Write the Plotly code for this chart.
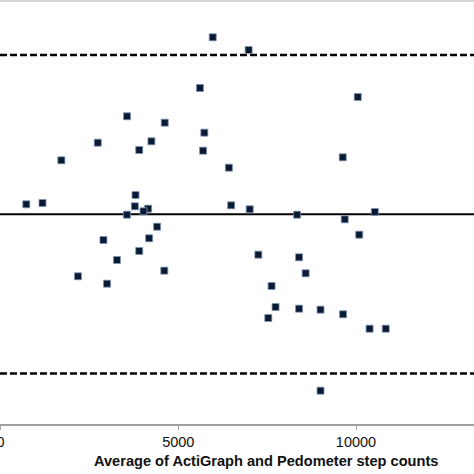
import plotly.graph_objects as go

# Average of ActiGraph and Pedometer step counts
avg_steps = [5970, 6980, 5610, 10050, 3560, 4620, 5734, 4245, 2737, 3902,
             5698, 9627, 1712, 6424, 3798, 1181, 726, 6488, 3779, 4153,
             7010, 4022, 10530, 3556, 8343, 9683, 4405, 10091, 4181, 2896,
             3902, 7253, 8399, 3276, 4608, 8583, 2179, 2997, 7625, 7737,
             7533, 8399, 9002, 9636, 10382, 10837, 9002]
# Difference between step counts
diff_steps = [4948, 4629, 3674, 3448, 2963, 2802, 2551, 2334, 2299, 2116,
              2098, 1932, 1857, 1671, 985, 784, 751, 726, 701, 641,
              626, 575, 558, 490, 490, 374, 188, -13, -103, -146,
              -422, -515, -581, -648, -917, -983, -1058, -1244, -1302, -1830,
              -2106, -1872, -1897, -2013, -2375, -2375, -3933]

mean_diff = 500
upper_loa = 4500
lower_loa = -3500

x_ticks = [0, 5000, 10000]
x_range = [-14, 13319]
y_range = [-4770, 5860]

fig = go.Figure()

for yv, dash in [(upper_loa, "dash"), (lower_loa, "dash"), (mean_diff, "solid")]:
    fig.add_trace(go.Scatter(
        x=x_range, y=[yv, yv], mode="lines",
        line=dict(color="black", width=(2.5 if dash == "dash" else 2),
                  dash=("7px,3px" if dash == "dash" else "solid")),
        hoverinfo="skip", showlegend=False))

fig.add_trace(go.Scatter(
    x=avg_steps, y=diff_steps, mode="markers",
    marker=dict(symbol="square", size=7, color="#0b1a33",
                line=dict(color="#7e93b3", width=0.8)),
    showlegend=False))

fig.update_layout(
    width=474, height=474,
    margin=dict(l=0, r=0, t=1, b=50),
    paper_bgcolor="white", plot_bgcolor="white",
    font=dict(family="Liberation Sans, Arial, sans-serif", size=14, color="black"),
    xaxis=dict(range=x_range, tickvals=x_ticks, ticktext=[str(t) for t in x_ticks],
               showgrid=False, zeroline=False, showline=True, linecolor="#a0a0a0",
               linewidth=1.5, ticks="outside", tickcolor="#a0a0a0", ticklen=4,
               ticklabeloverflow="allow", automargin=False,
               tickfont=dict(size=14.5, color="#111")),
    yaxis=dict(range=y_range, showgrid=False, zeroline=False, showline=False,
               showticklabels=False, ticks="", automargin=False),
    shapes=[dict(type="line", xref="paper", yref="paper", x0=0, x1=1, y0=1, y1=1,
                 line=dict(color="#d8d8d8", width=2))],
    annotations=[dict(text="<b>Average of ActiGraph and Pedometer step counts</b>",
                      xref="paper", yref="paper", x=0.561, y=-0.088,
                      xanchor="center", yanchor="middle", showarrow=False,
                      font=dict(size=14.6, color="#111"))],
)

fig.write_html("out.html")
